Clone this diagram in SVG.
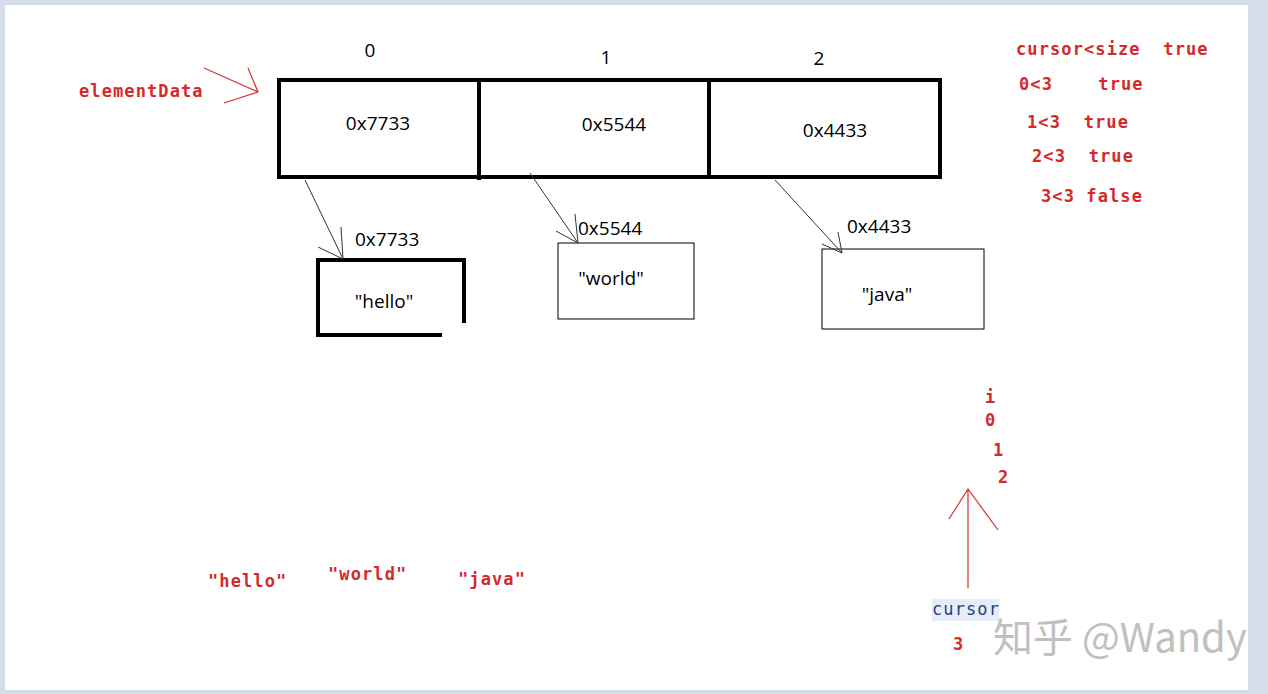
<svg xmlns="http://www.w3.org/2000/svg" width="1268" height="694" viewBox="0 0 1268 694">
<style>
.b{font-family:"Open Sans","Liberation Sans",sans-serif;font-size:19px;fill:#000}
.r{font-family:"DejaVu Sans Mono","Liberation Mono",monospace;font-size:17px;letter-spacing:1.1px;fill:#d42a2a;font-weight:bold;white-space:pre}
.rl{stroke:#d43030;stroke-width:1.2;fill:none}
.k{stroke:#000;fill:none}
</style>
<rect width="1268" height="694" fill="#d5dde8"/>
<rect x="5" y="5" width="1243" height="685" fill="#fff"/>
<g id="array">
<rect x="279" y="80" width="661" height="97" class="k" stroke-width="4"/>
<line x1="479" y1="80" x2="479" y2="180" class="k" stroke-width="4"/>
<line x1="709" y1="80" x2="709" y2="177" class="k" stroke-width="4"/>
<text class="b" x="370" y="57" text-anchor="middle">0</text>
<text class="b" x="606" y="64" text-anchor="middle">1</text>
<text class="b" x="819" y="65" text-anchor="middle">2</text>
<text class="b" x="378" y="130" text-anchor="middle">0x7733</text>
<text class="b" x="614" y="131" text-anchor="middle">0x5544</text>
<text class="b" x="835" y="137" text-anchor="middle">0x4433</text>
</g>
<g id="hello">
<path d="M464,323 V260 H318 V335 H442" class="k" stroke-width="4"/>
<text class="b" x="355" y="246">0x7733</text>
<text class="b" x="384" y="308" text-anchor="middle">"hello"</text>
</g>
<g id="world">
<rect x="558" y="243" width="136" height="76" class="k" stroke-width="1"/>
<text class="b" x="578" y="235">0x5544</text>
<text class="b" x="611" y="285" text-anchor="middle">"world"</text>
</g>
<g id="java">
<rect x="822" y="249" width="162" height="80" class="k" stroke-width="1"/>
<text class="b" x="847" y="233">0x4433</text>
<text class="b" x="887" y="301" text-anchor="middle">"java"</text>
</g>
<g id="connectors">
<g stroke="#333" stroke-width="1" fill="none">
<path d="M305,180 L343,259 M341,227 L343,259 L318,247"/>
<path d="M530,173 L578,243 M575,214 L578,243 L556,231"/>
<path d="M775,180 L842,253 M838,232 L842,253 L822,244"/>
</g>
<path class="rl" d="M204,68 L258,92 M248,68 L258,92 L224,103"/>
<path class="rl" d="M968,588 V489 M949,519 L968,489 L998,530"/>
</g>
<g id="labels" xml:space="preserve">
<text class="r" x="79" y="97">elementData</text>
<text class="r" x="1016" y="55">cursor&lt;size  true</text>
<text class="r" x="1019" y="90">0&lt;3    true</text>
<text class="r" x="1027" y="128">1&lt;3  true</text>
<text class="r" x="1032" y="162">2&lt;3  true</text>
<text class="r" x="1041" y="202">3&lt;3 false</text>
<text class="r" x="985" y="403">i</text>
<text class="r" x="985" y="426">0</text>
<text class="r" x="993" y="456">1</text>
<text class="r" x="998" y="483">2</text>
<text class="r" x="208" y="587">"hello"</text>
<text class="r" x="328" y="580">"world"</text>
<text class="r" x="458" y="585">"java"</text>
<rect x="932" y="599" width="67" height="22" fill="#e5eef8"/>
<text class="r" x="932" y="615" style="fill:#2a3f80;font-weight:normal">cursor</text>
<text class="r" x="953" y="650">3</text>
<text x="993" y="652" font-family="'Noto Sans CJK SC','Liberation Sans',sans-serif" font-size="40" fill="#c0c0c0">知乎 @Wandy</text>
</g>
</svg>
